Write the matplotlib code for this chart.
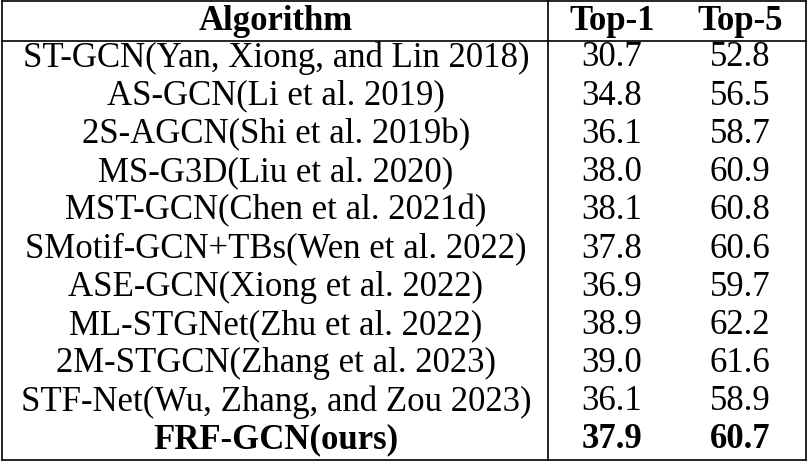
import matplotlib.pyplot as plt

plt.rcParams["font.family"] = ["Liberation Serif", "DejaVu Serif"]

headers = ["Algorithm", "Top-1", "Top-5"]
algorithms = [
    "ST-GCN(Yan, Xiong, and Lin 2018)",
    "AS-GCN(Li et al. 2019)",
    "2S-AGCN(Shi et al. 2019b)",
    "MS-G3D(Liu et al. 2020)",
    "MST-GCN(Chen et al. 2021d)",
    "SMotif-GCN+TBs(Wen et al. 2022)",
    "ASE-GCN(Xiong et al. 2022)",
    "ML-STGNet(Zhu et al. 2022)",
    "2M-STGCN(Zhang et al. 2023)",
    "STF-Net(Wu, Zhang, and Zou 2023)",
    "FRF-GCN(ours)",
]
top1 = ["30.7", "34.8", "36.1", "38.0", "38.1", "37.8", "36.9", "38.9", "39.0", "36.1", "37.9"]
top5 = ["52.8", "56.5", "58.7", "60.9", "60.8", "60.6", "59.7", "62.2", "61.6", "58.9", "60.7"]

W, H = 808, 464
fig = plt.figure(figsize=(W / 100, H / 100), dpi=100)
ax = fig.add_axes([0, 0, 1, 1])
ax.set_xlim(0, W)
ax.set_ylim(H, 0)
ax.axis("off")

col_x = [276, 612, 740]
fs = 25
lw = 1.2

# header
for x, h in zip(col_x, headers):
    ax.text(x, 22, h, ha="center", va="center", fontsize=fs, fontweight="bold")

row_y0, row_h = 58, 38.2
for i, (a, t1, t5) in enumerate(zip(algorithms, top1, top5)):
    y = row_y0 + i * row_h
    bold = "bold" if i == len(algorithms) - 1 else "normal"
    for x, s in zip(col_x, [a, t1, t5]):
        ax.text(x, y, s, ha="center", va="center", fontsize=fs, fontweight=bold)

# rules
ax.plot([2, 806], [2, 2], color="black", lw=lw)
ax.plot([2, 806], [42, 42], color="black", lw=lw)
ax.plot([2, 806], [461, 461], color="black", lw=lw)
for x in [2, 548, 806]:
    ax.plot([x, x], [2, 461], color="black", lw=lw)

fig.savefig("out.png", dpi=100)
